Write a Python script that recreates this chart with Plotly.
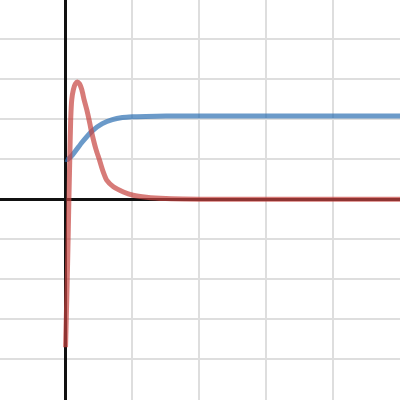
import plotly.graph_objects as go

# values
blue_t = [0.0, 0.02, 0.1, 0.25, 0.4, 0.55, 0.7, 0.85, 1.0, 1.2, 1.5, 2.0, 5.1]
blue_y = [1.0, 0.99, 1.1, 1.43, 1.71, 1.89, 1.99, 2.04, 2.06, 2.07, 2.08, 2.08, 2.08]

red_t = [0.0, 0.009, 0.018, 0.03, 0.04, 0.05, 0.063, 0.077, 0.093, 0.117,
         0.145, 0.176, 0.21, 0.242, 0.277, 0.317, 0.351, 0.381, 0.416, 0.456,
         0.505, 0.555, 0.615, 0.715, 0.865, 1.01, 1.21, 1.5, 2.0, 5.1]
red_y = [-3.7, -3.1, -2.5, -1.65, -0.85, 0.0, 1.0, 2.0, 2.49, 2.74,
         2.88, 2.93, 2.88, 2.74, 2.49, 2.24, 1.99, 1.74, 1.49, 1.24,
         0.99, 0.72, 0.475, 0.31, 0.18, 0.1, 0.05, 0.015, 0.0, 0.0]


def curve(x, y, color):
    return go.Scatter(
        x=x,
        y=y,
        mode="lines",
        line=dict(color=color, width=5, shape="spline", smoothing=0.6),
        opacity=0.7,
        hoverinfo="skip",
        showlegend=False,
    )


fig = go.Figure(data=[curve(blue_t, blue_y, "#2d70b3"), curve(red_t, red_y, "#c74440")])

axis_style = dict(
    dtick=1,
    showticklabels=False,
    ticks="",
    showgrid=True,
    gridcolor="rgb(222,222,222)",
    gridwidth=1.5,
    zeroline=True,
    zerolinecolor="#111111",
    zerolinewidth=2.5,
    showline=False,
    fixedrange=True,
)

fig.update_layout(
    width=400,
    height=400,
    margin=dict(l=0, r=0, t=0, b=0),
    paper_bgcolor="white",
    plot_bgcolor="white",
    xaxis=dict(range=[-0.98, 5.0], tick0=0, **axis_style),
    yaxis=dict(range=[-5.02, 4.98], tick0=0, **axis_style),
)

# the page body has a default 8px margin; drop it so the plot fills the window
fig.write_html(
    "out.html",
    config=dict(displayModeBar=False),
    post_script="document.body.style.margin='0';document.body.style.overflow='hidden';",
)
